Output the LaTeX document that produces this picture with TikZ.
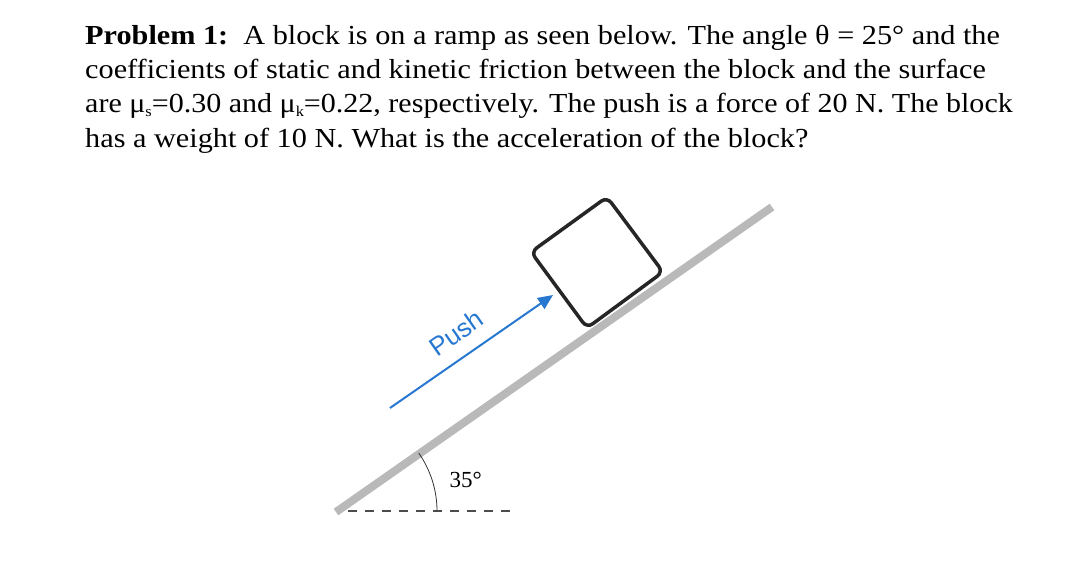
\documentclass[tikz,border=0pt]{standalone}
\usepackage{fontspec}
\setmainfont{Liberation Serif}
\setsansfont{Liberation Sans}
\usetikzlibrary{arrows.meta}
\definecolor{pushblue}{RGB}{40,120,210}
\newcommand{\sbs}[1]{\raisebox{-0.3ex}{\fontsize{15}{15}\selectfont #1}}
\newcommand{\wideline}[1]{\scalebox{1.1}[1]{#1}}
\tikzset{txt/.style={anchor=base west,inner sep=0pt,font=\fontsize{27.5}{30}\selectfont}}
\begin{document}
\begin{tikzpicture}[x=1pt,y=-1pt]
\useasboundingbox (0,0) rectangle (1071,583);
\node[txt] (l1) at (85,45) {\wideline{\textbf{Problem 1:}\ \ A block is on a ramp as seen below. The angle θ = 25° and the}};
\node[txt] (l2) at (85,79) {\wideline{coefficients of static and kinetic friction between the block and the surface}};
\node[txt] (l3) at (85,113) {\scalebox{1.092}[1]{are μ\sbs{s}=0.30 and μ\sbs{k}=0.22, respectively. The push is a force of 20 N. The block}};
\node[txt] (l4) at (85,147) {\wideline{has a weight of 10 N. What is the acceleration of the block?}};
% ramp
\coordinate (r0) at (336,512);
\coordinate (r1) at (772,207);
\draw[gray!55,line width=8pt] (r0) -- (r1);
\coordinate (d0) at (348,511);
\coordinate (d1) at (514,511);
\draw[black!70,dash pattern=on 9pt off 8pt,line width=1.2pt] (d0) -- (d1);
\draw[black!80,line width=0.8pt] (437,511) arc[start angle=0,end angle=-35,radius=101];
\node[font=\fontsize{23}{23}\selectfont,anchor=west] (ang) at (446,480) {35°};
% block
\draw[black!85,line width=3.5pt,rounded corners=7pt] (531,252) -- (607,197) -- (663,272) -- (587,328) -- cycle;
% push
\coordinate (p0) at (390,408);
\coordinate (p1) at (553,295);
\draw[pushblue,line width=2pt,-{Triangle[length=15pt,width=13pt]}] (p0) -- (p1);
\node[pushblue,font=\sffamily\fontsize{26}{26}\selectfont,rotate=35,inner sep=0pt] (push) at (456,333) {Push};
\end{tikzpicture}
\end{document}
